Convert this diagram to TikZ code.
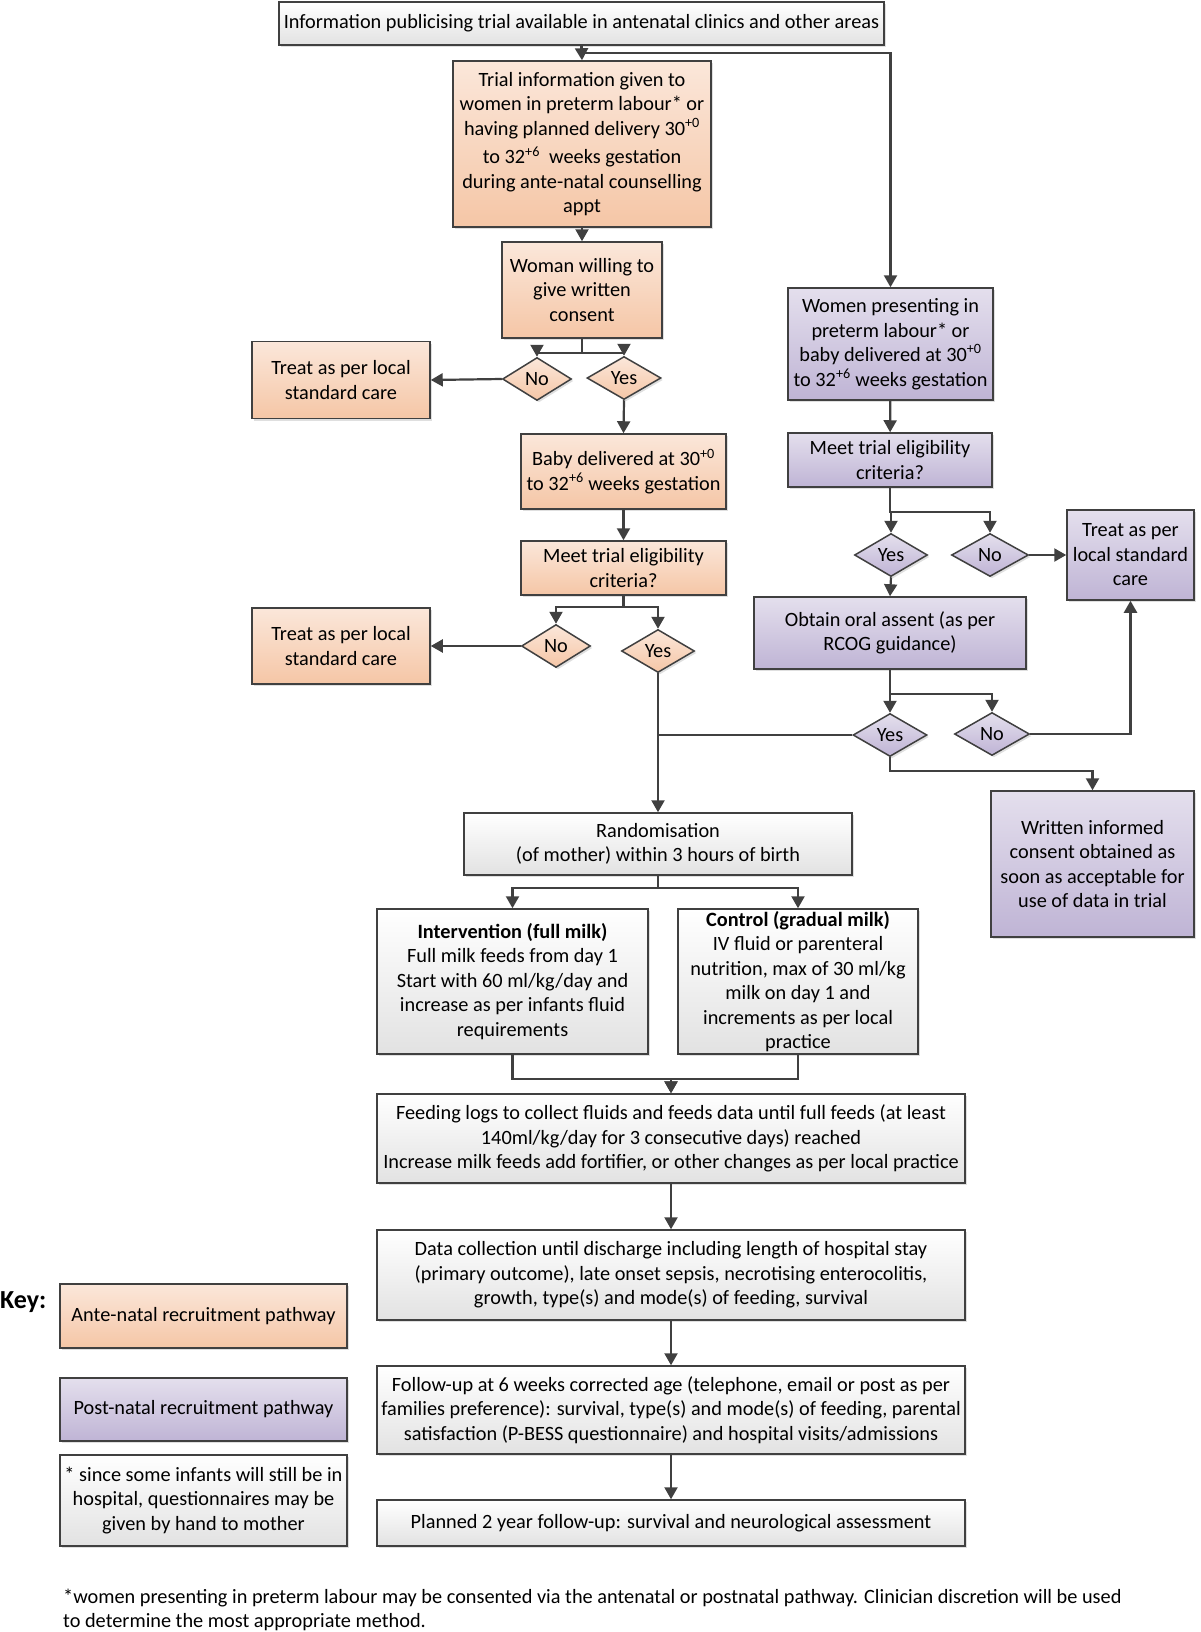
\documentclass[tikz,border=0pt]{standalone}
\usepackage{fontspec}
\setmainfont{Carlito}
\usepackage{tikz}
\usetikzlibrary{positioning,arrows.meta,shapes.geometric,shadows,calc}
\usepackage{xcolor}
\definecolor{edgegrey}{HTML}{404040}
\definecolor{antetop}{HTML}{FBE7DA}
\definecolor{antebot}{HTML}{F5C6A6}
\definecolor{posttop}{HTML}{E4DFED}
\definecolor{postbot}{HTML}{BFB4D5}
\definecolor{plainbot}{HTML}{E2E2E2}

\begin{document}
\begin{tikzpicture}[x=1pt, y=-1pt, font=\fontsize{20.3}{24.5}\selectfont,
    box/.style={draw=edgegrey, line width=1.5pt, align=center, inner sep=2pt,
      drop shadow={opacity=0.25, shadow xshift=2pt, shadow yshift=-2pt}},
    ante/.style={box, top color=antetop, bottom color=antebot},
    post/.style={box, top color=posttop, bottom color=postbot},
    plain/.style={box, top color=white, bottom color=plainbot},
    choice/.style={diamond, inner sep=0pt, minimum height=43pt},
    link/.style={draw=edgegrey, line width=2.2pt},
    arr/.style={link, -{Triangle[length=12pt,width=13pt]}}]
  \useasboundingbox (0,0) rectangle (1200,1632);

  \node[plain, minimum width=605pt, minimum height=43pt] (top) at (581.5,23.5)
    {Information publicising trial available in antenatal clinics and other areas};
  \node[ante, minimum width=258pt, minimum height=166pt] (trial) at (582,144)
    {Trial information given to\\ women in preterm labour* or\\ having planned delivery 30\textsuperscript{+0}\\[4pt]
     to 32\textsuperscript{+6}\ \ weeks gestation\\ during ante-natal counselling\\ appt};
  \node[ante, minimum width=160pt, minimum height=96pt] (woman) at (582,290)
    {Woman willing to\\ give written\\ consent};
  \node[ante, choice, minimum width=69pt] (no1) at (537,379) {No};
  \node[ante, choice, minimum width=74pt] (yes1) at (624,378) {Yes};
  \node[ante, minimum width=178pt, minimum height=77pt] (treat1) at (341,380)
    {Treat as per local\\ standard care};
  \node[ante, minimum width=205pt, minimum height=75pt] (baby) at (623.5,471.5)
    {Baby delivered at 30\textsuperscript{+0}\\ to 32\textsuperscript{+6} weeks gestation};
  \node[ante, minimum width=205pt, minimum height=54pt] (meet1) at (623.5,568)
    {Meet trial eligibility\\ criteria?};
  \node[ante, choice, minimum width=69pt] (no2) at (556,646) {No};
  \node[ante, choice, minimum width=73pt] (yes2) at (658,651) {Yes};
  \node[ante, minimum width=178pt, minimum height=76pt] (treat2) at (341,646)
    {Treat as per local\\ standard care};

  \node[post, minimum width=205pt, minimum height=112pt] (women) at (890.5,344)
    {Women presenting in\\ preterm labour* or\\ baby delivered at 30\textsuperscript{+0}\\ to 32\textsuperscript{+6} weeks gestation};
  \node[post, minimum width=204pt, minimum height=54pt] (meet2) at (890,460)
    {Meet trial eligibility\\ criteria?};
  \node[post, choice, minimum width=73pt] (yes3) at (891,555) {Yes};
  \node[post, choice, minimum width=77pt] (no3) at (990,555) {No};
  \node[post, minimum width=127pt, minimum height=90pt] (treat3) at (1130.5,555)
    {Treat as per\\ local standard\\ care};
  \node[post, minimum width=272pt, minimum height=72pt] (oral) at (890,633)
    {Obtain oral assent (as per\\ RCOG guidance)};
  \node[post, choice, minimum width=74pt] (yes4) at (890,735) {Yes};
  \node[post, choice, minimum width=75pt] (no4) at (992,734) {No};
  \node[post, minimum width=203pt, minimum height=146pt] (written) at (1092.5,864)
    {Written informed\\ consent obtained as\\ soon as acceptable for\\ use of data in trial};

  \node[plain, minimum width=388pt, minimum height=62pt] (rand) at (658,844)
    {Randomisation\\ (of mother) within 3 hours of birth};
  \node[plain, minimum width=271pt, minimum height=145pt] (interv) at (512.5,981.5)
    {\textbf{Intervention (full milk)}\\ Full milk feeds from day 1\\ Start with 60 ml/kg/day and\\ increase as per infants fluid\\ requirements};
  \node[plain, minimum width=240pt, minimum height=145pt, inner sep=0pt] (control) at (798,981.5)
    {\textbf{Control (gradual milk)}\\ IV fluid or parenteral\\ nutrition, max of 30 ml/kg\\ milk on day 1 and\\ increments as per local\\ practice};
  \node[plain, minimum width=588pt, minimum height=89pt] (feed) at (671,1138.5)
    {Feeding logs to collect fluids and feeds data until full feeds (at least\\ 140ml/kg/day for 3 consecutive days) reached\\ Increase milk feeds add fortifier, or other changes as per local practice};
  \node[plain, minimum width=588pt, minimum height=90pt] (data) at (671,1275)
    {Data collection until discharge including length of hospital stay\\ (primary outcome), late onset sepsis, necrotising enterocolitis,\\ growth, type(s) and mode(s) of feeding, survival};
  \node[plain, minimum width=588pt, minimum height=88pt] (follow) at (671,1410)
    {Follow-up at 6 weeks corrected age (telephone, email or post as per\\ families preference): survival, type(s) and mode(s) of feeding, parental\\ satisfaction (P-BESS questionnaire) and hospital visits/admissions};
  \node[plain, minimum width=588pt, minimum height=46pt] (plan) at (671,1523)
    {Planned 2 year follow-up: survival and neurological assessment};

  \node[anchor=west, inner sep=0pt, font=\fontsize{26}{28}\selectfont\bfseries] (key) at (0,1302) {Key:};
  \node[ante, minimum width=287pt, minimum height=64pt] (keyante) at (203.5,1316)
    {Ante-natal recruitment pathway};
  \node[post, minimum width=287pt, minimum height=63pt] (keypost) at (203.5,1409.5)
    {Post-natal recruitment pathway};
  \node[plain, minimum width=287pt, minimum height=91pt] (keynote) at (203.5,1500.5)
    {* since some infants will still be in\\ hospital, questionnaires may be\\ given by hand to mother};
  \node[anchor=west, align=left, inner sep=0pt] (foot) at (63,1610)
    {*women presenting in preterm labour may be consented via the antenatal or postnatal pathway. Clinician discretion will be used\\ to determine the most appropriate method.};

  \draw[arr] (top.south) -- (trial.north);
  \draw[arr] (top.south) -- ++(0,7) -| (women.north);
  \draw[arr] (trial) -- (woman);
  \draw[arr] (woman.south) -- ++(0,14) -| (no1.north);
  \draw[arr] (woman.south) -- ++(0,14) -| (yes1.north);
  \draw[arr] (no1.west) -- (treat1.east);
  \draw[arr] (yes1.south) -- (baby.north);
  \draw[arr] (baby) -- (meet1);
  \draw[arr] (meet1.south) -- ++(0,11) -| (no2.north);
  \draw[arr] (meet1.south) -- ++(0,11) -| (yes2.north);
  \draw[arr] (no2.west) -- (treat2.east);
  \draw[arr] (yes2.south) -- (rand.north);

  \draw[arr] (women) -- (meet2);
  \draw[arr] (meet2.south) -- ++(0,24) -| (yes3.north);
  \draw[arr] (meet2.south) -- ++(0,24) -| (no3.north);
  \draw[arr] (no3.east) -- (treat3.west);
  \draw[arr] (yes3.south) -- (oral.north);
  \draw[arr] (oral.south) -- ++(0,24) -| (yes4.north);
  \draw[arr] (oral.south) -- ++(0,24) -| (no4.north);
  \draw[arr] (no4.east) -| (treat3.south);
  \draw[link] (yes4.west) -- (yes4.west -| yes2.south);
  \draw[arr] (yes4.south) -- ++(0,14) -| (written.north);

  \draw[arr] (rand.south) -- ++(0,12) -| (interv.north);
  \draw[arr] (rand.south) -- ++(0,12) -| (control.north);
  \draw[arr] (interv.south) -- ++(0,24) -| (feed.north);
  \draw[arr] (control.south) -- ++(0,24) -| (feed.north);
  \draw[arr] (feed) -- (data);
  \draw[arr] (data) -- (follow);
  \draw[arr] (follow) -- (plan);
\end{tikzpicture}
\end{document}
